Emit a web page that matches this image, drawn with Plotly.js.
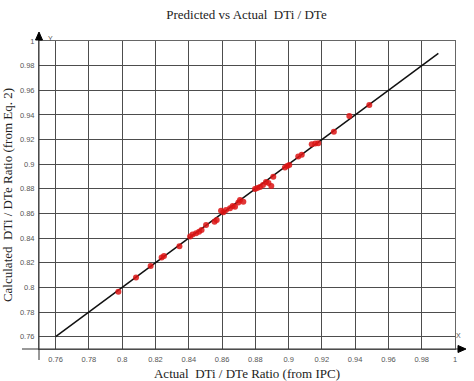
<!DOCTYPE html>
<html>
<head>
<meta charset="utf-8">
<script src="https://cdn.plot.ly/plotly-3.0.1.min.js"></script>
<style>html,body{margin:0;padding:0;background:#fff;}#chart{width:474px;height:381px;}</style>
</head>
<body>
<div id="chart"></div>
<script>
const actual = [0.7977,0.8083,0.8171,0.8237,0.8251,0.8344,0.8408,0.8423,0.8444,0.8462,0.8477,0.8504,0.8555,0.8568,0.8594,0.8608,0.8624,0.8648,0.8664,0.8678,0.8698,0.8708,0.8728,0.8798,0.8812,0.8828,0.8846,0.8864,0.8879,0.8896,0.8908,0.8978,0.8992,0.9004,0.9058,0.9079,0.9139,0.9160,0.9178,0.9272,0.9365,0.9485];
const calculated = [0.7964,0.8081,0.8173,0.8242,0.8254,0.8335,0.8413,0.8429,0.8439,0.8452,0.8465,0.8506,0.8533,0.8547,0.8622,0.8609,0.8628,0.8642,0.8660,0.8655,0.8689,0.8709,0.8695,0.8798,0.8806,0.8814,0.8831,0.8855,0.8847,0.8824,0.8898,0.8974,0.8985,0.8993,0.9062,0.9076,0.9161,0.9168,0.9170,0.9264,0.9391,0.9480];
const fitLineX = [0.76, 0.99];
const fitLineY = [0.76, 0.99];
const tickStart = 0.76, tickStep = 0.02;

const traces = [
  {x: fitLineX, y: fitLineY, mode: 'lines', line: {color: '#111', width: 1.5}, hoverinfo: 'skip'},
  {x: actual, y: calculated, mode: 'markers', marker: {color: 'rgba(220,20,20,0.85)', size: 6}}
];
const axisCommon = {
  range: [0.75, 1.0], tick0: tickStart, dtick: tickStep, showgrid: true, gridcolor: '#4d4d4d', gridwidth: 1,
  zeroline: false, showline: true, linecolor: '#666', linewidth: 1, mirror: true,
  ticks: '', tickfont: {family: 'Liberation Sans, Arial', size: 7.5, color: '#555'}, fixedrange: true
};
const serif = {family: 'Liberation Serif, Times New Roman, serif', size: 13, color: '#222'};
const px = v => ((v - 39) / 416).toFixed(4), py = v => ((349 - v) / 308).toFixed(4);
const layout = {
  width: 474, height: 381,
  margin: {l: 39, r: 19, t: 41, b: 32},
  paper_bgcolor: '#fff', plot_bgcolor: '#fff', showlegend: false,
  title: {text: 'Predicted vs Actual  DTi / DTe', font: serif, x: 0.52, xanchor: 'center', y: 0.962, yanchor: 'middle'},
  xaxis: Object.assign({}, axisCommon, {title: {text: 'Actual  DTi / DTe Ratio (from IPC)', font: serif, standoff: 6}, ticklabelstandoff: 3}),
  yaxis: Object.assign({}, axisCommon, {title: {text: 'Calculated  DTi / DTe Ratio (from Eq. 2)', font: serif, standoff: 5}, ticklabelstandoff: 2}),
  shapes: [
    {type: 'line', xref: 'paper', yref: 'paper', x0: +px(39), x1: +px(39), y0: +py(360), y1: +py(36), line: {color: '#333', width: 1}},
    {type: 'line', xref: 'paper', yref: 'paper', x0: +px(22), x1: +px(462), y0: +py(349), y1: +py(349), line: {color: '#333', width: 1}},
    {type: 'path', xref: 'paper', yref: 'paper', layer: 'above',
     path: 'M' + px(35.5) + ',' + py(40) + 'L' + px(39) + ',' + py(32) + 'L' + px(42.5) + ',' + py(40) + 'Z',
     fillcolor: '#000', line: {color: '#000', width: 1}},
    {type: 'path', xref: 'paper', yref: 'paper', layer: 'above',
     path: 'M' + px(458) + ',' + py(345.5) + 'L' + px(466) + ',' + py(349) + 'L' + px(458) + ',' + py(352.5) + 'Z',
     fillcolor: '#000', line: {color: '#000', width: 1}}
  ],
  annotations: [
    {xref: 'paper', yref: 'paper', x: +px(46), y: +py(33), text: 'Y', showarrow: false, font: {family: 'Liberation Sans', size: 7, color: '#555'}},
    {xref: 'paper', yref: 'paper', x: +px(463), y: +py(341), text: 'X', showarrow: false, font: {family: 'Liberation Sans', size: 7, color: '#555'}}
  ]
};
Plotly.newPlot('chart', traces, layout, {displayModeBar: false, staticPlot: true});
</script>
</body>
</html>
